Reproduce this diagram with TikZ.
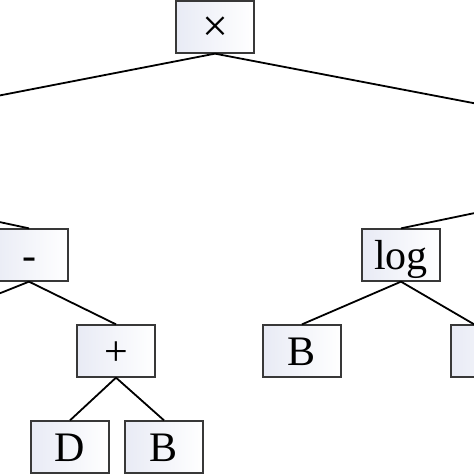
\documentclass[tikz,border=0pt]{standalone}
\usepackage{fontspec}
\setmainfont{Liberation Serif}
\usetikzlibrary{calc}
\definecolor{boxline}{rgb}{0.22,0.22,0.22}
\definecolor{boxtint}{rgb}{0.91,0.92,0.96}
\tikzset{
  treebox/.style={draw=boxline, line width=1.3pt, minimum width=78pt, minimum height=52pt,
    inner sep=0pt, left color=boxtint, right color=white,
    font=\fontsize{42}{42}\selectfont, text height=30pt, text depth=2pt},
  edge/.style={draw=black, line width=1.8pt}
}
\begin{document}
\begin{tikzpicture}[x=1pt,y=-1pt]
\useasboundingbox (0,0) rectangle (474,474);
\clip (0,0) rectangle (474,474);
% nodes
\node[treebox] (root) at (215,27) {\fontsize{46}{46}\selectfont ×};
\node[treebox] (L) at (-180,157) {};
\node[treebox] (R) at (616,157) {};
\node[treebox] (minus) at (29,255) {-};
\node[treebox] (LL) at (-78,351) {};
\node[treebox] (plus) at (116,351) {+};
\node[treebox] (log) at (401,255) {log};
\node[treebox] (B1) at (302,351) {B};
\node[treebox] (rc) at (490,351) {};
\node[treebox] (D) at (70,447) {D};
\node[treebox] (B2) at (164,447) {B};
% connectors
\draw[edge] (root.south) -- (L.north);
\draw[edge] (root.south) -- (R.north);
\draw[edge] (L.south) -- (minus.north);
\draw[edge] (R.south) -- (log.north);
\draw[edge] (minus.south) -- (LL.north);
\draw[edge] (minus.south) -- (plus.north);
\draw[edge] (log.south) -- (B1.north);
\draw[edge] (log.south) -- ($(rc.north west)!0.3!(rc.north east)$);
\draw[edge] (plus.south) -- (D.north);
\draw[edge] (plus.south) -- (B2.north);
\end{tikzpicture}
\end{document}
